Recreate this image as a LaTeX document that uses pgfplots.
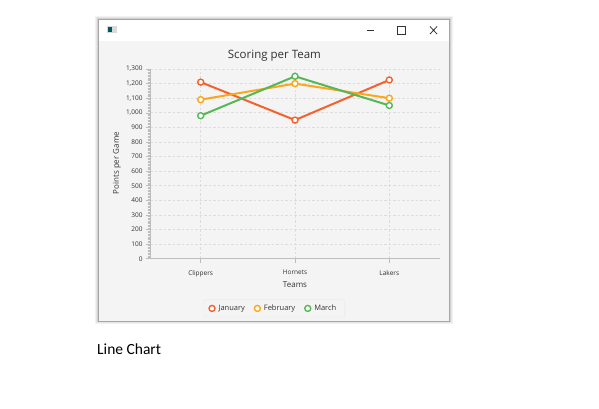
\documentclass[border=0pt]{standalone}
\usepackage{pgfplots}
\pgfplotsset{compat=1.18}
\usepackage{fontspec}
\setmainfont{Open Sans}
\newfontfamily\capfont{Carlito}

\definecolor{jan}{HTML}{F3622D}
\definecolor{feb}{HTML}{FBA71B}
\definecolor{mar}{HTML}{57B757}
\definecolor{chartbg}{HTML}{F4F4F4}
\definecolor{gridc}{HTML}{DCDCDC}
\definecolor{axisc}{HTML}{BDBDBD}
\definecolor{txt}{HTML}{333333}

\begin{document}
\begin{tikzpicture}[x=1pt,y=1pt]
  \useasboundingbox (0,0) rectangle (599,408);
  \fill[white] (0,0) rectangle (599,408);

  % window shadow and frame
  \fill[black!5] (95,84) rectangle (453,392);
  \fill[black!10] (96,85) rectangle (452,391);
  \fill[black!18] (97,86) rectangle (451,390);
  \fill[chartbg] (98,87) rectangle (449,389);
  \fill[white] (98,367) rectangle (449,389);
  \draw[black!35,line width=0.8] (98,87) rectangle (449,389);

  % title bar icons
  \fill[black!15] (106.5,374.5) rectangle (116.5,382);
  \fill[teal!70!black] (107.5,375.5) rectangle (111.5,381);
  \draw[black!80,line width=0.8] (367,378) -- (374,378);
  \draw[black!80,line width=0.8] (397.5,374) rectangle (405,381.5);
  \draw[black!80,line width=0.8] (430,374) -- (437,381.5) (430,381.5) -- (437,374);

  \begin{axis}[
    at={(150pt,149.3pt)}, anchor=south west,
    scale only axis,
    width=290pt, height=189.7pt,
    xmin=-0.5375, xmax=2.5375,
    ymin=0, ymax=1300,
    axis lines=left,
    axis line style={axisc, line width=0.8pt, -},
    xtick={0,1,2},
    xticklabels={Clippers,Hornets,Lakers},
    ytick={0,100,...,1300},
    minor y tick num=9,
    tick align=outside,
    major tick length=4pt,
    minor tick length=2.5pt,
    tick style={axisc, line width=0.5pt},
    /pgf/number format/1000 sep={,},
    /pgf/number format/assume math mode=true,
    ticklabel style={font=\fontsize{6.5}{7}\selectfont, text=txt},
    xticklabel style={yshift=-4pt},
    grid=major,
    major grid style={gridc, dash pattern=on 2.5pt off 2pt, line width=0.6pt},
    every axis title shift=0pt,
    title={Scoring per Team},
    title style={at={(axis description cs:0.429,1.068)}, anchor=center,
      font=\fontsize{11.5}{13}\selectfont, text=txt},
    xlabel={Teams},
    xlabel style={at={(axis description cs:0.5,-0.136)}, anchor=center,
      font=\fontsize{8}{9}\selectfont, text=txt},
    ylabel={Points per Game},
    ylabel style={at={(axis description cs:-0.114,0.504)}, anchor=center,
      font=\fontsize{8}{9}\selectfont, text=txt},
    clip=false,
    legend columns=3,
    legend image code/.code={\draw[#1] plot coordinates {(0pt,0pt)};},
    legend style={at={(axis description cs:0.429,-0.262)}, anchor=center,
      draw=black!10, fill=chartbg, rounded corners=2pt,
      font=\fontsize{7.5}{8}\selectfont, text=txt,
      inner xsep=5pt, inner ysep=3pt,
      /tikz/every even column/.append style={column sep=6pt},
      nodes={inner xsep=3.5pt}},
  ]
    \addplot[jan, line width=2pt, mark=*,
      mark options={draw=jan, fill=white, line width=1.4pt}, mark size=3pt]
      coordinates {(0,1210) (1,950) (2,1225)};
    \addlegendentry{January}
    \addplot[feb, line width=2pt, mark=*,
      mark options={draw=feb, fill=white, line width=1.4pt}, mark size=3pt]
      coordinates {(0,1090) (1,1200) (2,1100)};
    \addlegendentry{February}
    \addplot[mar, line width=2pt, mark=*,
      mark options={draw=mar, fill=white, line width=1.4pt}, mark size=3pt]
      coordinates {(0,980) (1,1250) (2,1050)};
    \addlegendentry{March}
  \end{axis}

  % caption below the window
  \node[anchor=base west, inner sep=0pt, font=\capfont\fontsize{15.5}{18}\selectfont]
    at (97,53.7) {Line Chart};
\end{tikzpicture}
\end{document}
